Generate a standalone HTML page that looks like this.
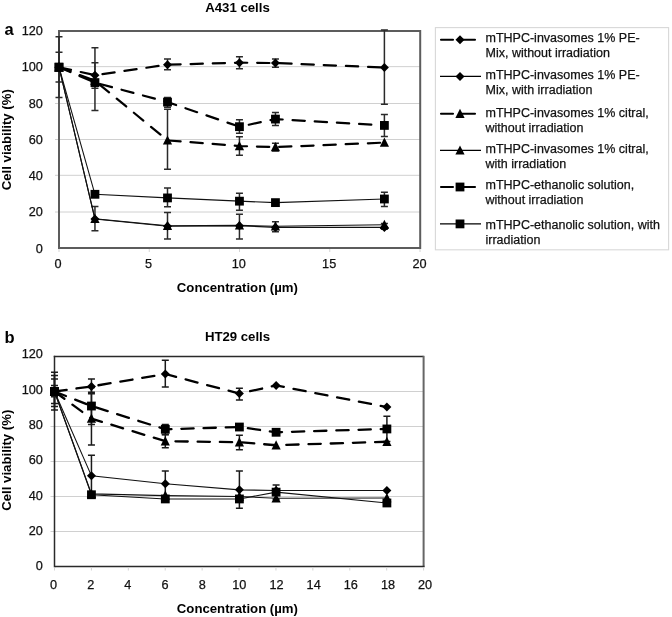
<!DOCTYPE html>
<html><head><meta charset="utf-8"><title>Cell viability charts</title>
<style>
html,body{margin:0;padding:0;background:#fff;}
body{width:672px;height:617px;overflow:hidden;}
svg{display:block;}
.t{font-family:"Liberation Sans",Arial,sans-serif;font-size:12.7px;fill:#111;stroke:#111;stroke-width:0.25px;}
.l{font-family:"Liberation Sans",Arial,sans-serif;font-size:12.5px;fill:#111;stroke:#111;stroke-width:0.25px;}
.b{font-family:"Liberation Sans",Arial,sans-serif;font-size:13.2px;font-weight:bold;fill:#000;}
.lab{font-family:"Liberation Sans",Arial,sans-serif;font-size:16.5px;font-weight:bold;fill:#000;}
</style></head><body>
<svg width="672" height="617" viewBox="0 0 672 617">
<line x1="55" y1="212" x2="420.2" y2="212" stroke="#d0d0d0" stroke-width="1"/>
<line x1="55" y1="175.3" x2="420.2" y2="175.3" stroke="#d0d0d0" stroke-width="1"/>
<line x1="55" y1="139.5" x2="420.2" y2="139.5" stroke="#d0d0d0" stroke-width="1"/>
<line x1="55" y1="103.5" x2="420.2" y2="103.5" stroke="#d0d0d0" stroke-width="1"/>
<line x1="55" y1="66.65" x2="420.2" y2="66.65" stroke="#d0d0d0" stroke-width="1"/>
<rect x="59" y="31" width="361.2" height="217" fill="none" stroke="#5c5c5c" stroke-width="2"/>
<text x="42.8" y="252.7" text-anchor="end" class="t">0</text>
<text x="42.8" y="216.45" text-anchor="end" class="t">20</text>
<text x="42.8" y="180.2" text-anchor="end" class="t">40</text>
<text x="42.8" y="143.95" text-anchor="end" class="t">60</text>
<text x="42.8" y="107.7" text-anchor="end" class="t">80</text>
<text x="42.8" y="71.45" text-anchor="end" class="t">100</text>
<text x="42.8" y="35.2" text-anchor="end" class="t">120</text>
<line x1="59" y1="249" x2="59" y2="252" stroke="#d4d4d4" stroke-width="1"/>
<text x="58.1" y="267.9" text-anchor="middle" class="t">0</text>
<line x1="149.25" y1="249" x2="149.25" y2="252" stroke="#d4d4d4" stroke-width="1"/>
<text x="148.45" y="267.9" text-anchor="middle" class="t">5</text>
<line x1="239.5" y1="249" x2="239.5" y2="252" stroke="#d4d4d4" stroke-width="1"/>
<text x="238.8" y="267.9" text-anchor="middle" class="t">10</text>
<line x1="329.75" y1="249" x2="329.75" y2="252" stroke="#d4d4d4" stroke-width="1"/>
<text x="329.15" y="267.9" text-anchor="middle" class="t">15</text>
<line x1="420" y1="249" x2="420" y2="252" stroke="#d4d4d4" stroke-width="1"/>
<text x="419.5" y="267.9" text-anchor="middle" class="t">20</text>
<path d="M59 36.64V97.39M55.5 36.64H62.5M55.5 97.39H62.5" stroke="#2a2a2a" stroke-width="1.5" fill="none"/>
<path d="M59 52.19V82.03M55.5 52.19H62.5M55.5 82.03H62.5" stroke="#2a2a2a" stroke-width="1.5" fill="none"/>
<path d="M94.95 47.67V110.41M91.45 47.67H98.45M91.45 110.41H98.45" stroke="#2a2a2a" stroke-width="1.5" fill="none"/>
<path d="M94.95 62.68V88.17M91.45 62.68H98.45M91.45 88.17H98.45" stroke="#2a2a2a" stroke-width="1.5" fill="none"/>
<path d="M94.95 206.42V230.82M91.45 206.42H98.45M91.45 230.82H98.45" stroke="#2a2a2a" stroke-width="1.5" fill="none"/>
<path d="M167.5 59.06V69.73M164 59.06H171M164 69.73H171" stroke="#2a2a2a" stroke-width="1.5" fill="none"/>
<path d="M167.5 97.57V107.34M164 97.57H171M164 107.34H171" stroke="#2a2a2a" stroke-width="1.5" fill="none"/>
<path d="M167.5 109.33V169.35M164 109.33H171M164 169.35H171" stroke="#2a2a2a" stroke-width="1.5" fill="none"/>
<path d="M167.5 187.97V206.78M164 187.97H171M164 206.78H171" stroke="#2a2a2a" stroke-width="1.5" fill="none"/>
<path d="M167.5 212.56V238.96M164 212.56H171M164 238.96H171" stroke="#2a2a2a" stroke-width="1.5" fill="none"/>
<path d="M239.45 56.71V68.65M235.95 56.71H242.95M235.95 68.65H242.95" stroke="#2a2a2a" stroke-width="1.5" fill="none"/>
<path d="M239.45 119.63V133.19M235.95 119.63H242.95M235.95 133.19H242.95" stroke="#2a2a2a" stroke-width="1.5" fill="none"/>
<path d="M239.45 136.63V155.25M235.95 136.63H242.95M235.95 155.25H242.95" stroke="#2a2a2a" stroke-width="1.5" fill="none"/>
<path d="M239.45 193.22V210.21M235.95 193.22H242.95M235.95 210.21H242.95" stroke="#2a2a2a" stroke-width="1.5" fill="none"/>
<path d="M239.45 214.19V238.96M235.95 214.19H242.95M235.95 238.96H242.95" stroke="#2a2a2a" stroke-width="1.5" fill="none"/>
<path d="M275.45 58.88V67.2M271.95 58.88H278.95M271.95 67.2H278.95" stroke="#2a2a2a" stroke-width="1.5" fill="none"/>
<path d="M275.45 112.58V125.6M271.95 112.58H278.95M271.95 125.6H278.95" stroke="#2a2a2a" stroke-width="1.5" fill="none"/>
<path d="M275.45 143.32V150.91M271.95 143.32H278.95M271.95 150.91H278.95" stroke="#2a2a2a" stroke-width="1.5" fill="none"/>
<path d="M275.45 221.78V231.73M271.95 221.78H278.95M271.95 231.73H278.95" stroke="#2a2a2a" stroke-width="1.5" fill="none"/>
<path d="M384.4 29.96V104.26M380.9 29.96H387.9M380.9 104.26H387.9" stroke="#2a2a2a" stroke-width="1.5" fill="none"/>
<path d="M384.4 114.57V136.45M380.9 114.57H387.9M380.9 136.45H387.9" stroke="#2a2a2a" stroke-width="1.5" fill="none"/>
<path d="M384.4 192.31V206.6M380.9 192.31H387.9M380.9 206.6H387.9" stroke="#2a2a2a" stroke-width="1.5" fill="none"/>
<path d="M384.4 223.41V229.2M380.9 223.41H387.9M380.9 229.2H387.9" stroke="#2a2a2a" stroke-width="1.5" fill="none"/>
<polyline points="59,67.2 94.95,75.16 167.5,64.67 239.45,62.68 275.45,63.04 384.4,67.56" fill="none" stroke="#000" stroke-width="2.2" stroke-dasharray="12.3 9.9" stroke-linecap="round"/>
<polyline points="59,67.2 94.95,219.07 167.5,226.3 239.45,225.76 275.45,227.39 384.4,227.39" fill="none" stroke="#111" stroke-width="1.1"/>
<polyline points="59,67.2 94.95,80.76 167.5,140.42 239.45,146.03 275.45,147.11 384.4,142.59" fill="none" stroke="#000" stroke-width="2.2" stroke-dasharray="12.3 9.9" stroke-linecap="round"/>
<polyline points="59,67.2 94.95,218.71 167.5,225.76 239.45,225.4 275.45,226.3 384.4,224.68" fill="none" stroke="#111" stroke-width="1.1"/>
<polyline points="59,67.2 94.95,82.57 167.5,102.09 239.45,126.68 275.45,119.09 384.4,125.42" fill="none" stroke="#000" stroke-width="2.2" stroke-dasharray="12.3 9.9" stroke-linecap="round"/>
<polyline points="59,67.2 94.95,194.3 167.5,197.92 239.45,201.17 275.45,202.62 384.4,199" fill="none" stroke="#111" stroke-width="1.1"/>
<path d="M59 62.7L63.5 67.2L59 71.7L54.5 67.2Z" fill="#000"/>
<path d="M94.95 70.66L99.45 75.16L94.95 79.66L90.45 75.16Z" fill="#000"/>
<path d="M167.5 60.17L172 64.67L167.5 69.17L163 64.67Z" fill="#000"/>
<path d="M239.45 58.18L243.95 62.68L239.45 67.18L234.95 62.68Z" fill="#000"/>
<path d="M275.45 58.54L279.95 63.04L275.45 67.54L270.95 63.04Z" fill="#000"/>
<path d="M384.4 63.06L388.9 67.56L384.4 72.06L379.9 67.56Z" fill="#000"/>
<path d="M59 62.7L63.5 67.2L59 71.7L54.5 67.2Z" fill="#000"/>
<path d="M94.95 214.57L99.45 219.07L94.95 223.57L90.45 219.07Z" fill="#000"/>
<path d="M167.5 221.8L172 226.3L167.5 230.8L163 226.3Z" fill="#000"/>
<path d="M239.45 221.26L243.95 225.76L239.45 230.26L234.95 225.76Z" fill="#000"/>
<path d="M275.45 222.89L279.95 227.39L275.45 231.89L270.95 227.39Z" fill="#000"/>
<path d="M384.4 222.89L388.9 227.39L384.4 231.89L379.9 227.39Z" fill="#000"/>
<path d="M59 62.2L63.6 71.4L54.4 71.4Z" fill="#000"/>
<path d="M94.95 75.76L99.55 84.96L90.35 84.96Z" fill="#000"/>
<path d="M167.5 135.42L172.1 144.62L162.9 144.62Z" fill="#000"/>
<path d="M239.45 141.03L244.05 150.23L234.85 150.23Z" fill="#000"/>
<path d="M275.45 142.11L280.05 151.31L270.85 151.31Z" fill="#000"/>
<path d="M384.4 137.59L389 146.79L379.8 146.79Z" fill="#000"/>
<path d="M59 62.2L63.6 71.4L54.4 71.4Z" fill="#000"/>
<path d="M94.95 213.71L99.55 222.91L90.35 222.91Z" fill="#000"/>
<path d="M167.5 220.76L172.1 229.96L162.9 229.96Z" fill="#000"/>
<path d="M239.45 220.4L244.05 229.6L234.85 229.6Z" fill="#000"/>
<path d="M275.45 221.3L280.05 230.5L270.85 230.5Z" fill="#000"/>
<path d="M384.4 219.68L389 228.88L379.8 228.88Z" fill="#000"/>
<rect x="54.6" y="62.8" width="8.8" height="8.8" fill="#000"/>
<rect x="90.55" y="78.17" width="8.8" height="8.8" fill="#000"/>
<rect x="163.1" y="97.69" width="8.8" height="8.8" fill="#000"/>
<rect x="235.05" y="122.28" width="8.8" height="8.8" fill="#000"/>
<rect x="271.05" y="114.69" width="8.8" height="8.8" fill="#000"/>
<rect x="380" y="121.02" width="8.8" height="8.8" fill="#000"/>
<rect x="54.6" y="62.8" width="8.8" height="8.8" fill="#000"/>
<rect x="90.55" y="189.9" width="8.8" height="8.8" fill="#000"/>
<rect x="163.1" y="193.52" width="8.8" height="8.8" fill="#000"/>
<rect x="235.05" y="196.77" width="8.8" height="8.8" fill="#000"/>
<rect x="271.05" y="198.22" width="8.8" height="8.8" fill="#000"/>
<rect x="380" y="194.6" width="8.8" height="8.8" fill="#000"/>
<line x1="50.5" y1="531.5" x2="423.6" y2="531.5" stroke="#d0d0d0" stroke-width="1"/>
<line x1="50.5" y1="496.5" x2="423.6" y2="496.5" stroke="#d0d0d0" stroke-width="1"/>
<line x1="50.5" y1="461.5" x2="423.6" y2="461.5" stroke="#d0d0d0" stroke-width="1"/>
<line x1="50.5" y1="426.5" x2="423.6" y2="426.5" stroke="#d0d0d0" stroke-width="1"/>
<line x1="50.5" y1="391.5" x2="423.6" y2="391.5" stroke="#d0d0d0" stroke-width="1"/>
<path d="M53.75 356.5H423.6" stroke="#2a2a2a" stroke-width="1.4"/>
<path d="M423.6 355.8V566.5" stroke="#666" stroke-width="2"/>
<path d="M54.5 566.5H424.6" stroke="#2a2a2a" stroke-width="1.6"/>
<path d="M54.5 355.8V567.3" stroke="#2a2a2a" stroke-width="1.5"/>
<text x="42.8" y="570.4" text-anchor="end" class="t">0</text>
<text x="42.8" y="535.07" text-anchor="end" class="t">20</text>
<text x="42.8" y="499.74" text-anchor="end" class="t">40</text>
<text x="42.8" y="464.41" text-anchor="end" class="t">60</text>
<text x="42.8" y="429.08" text-anchor="end" class="t">80</text>
<text x="42.8" y="393.75" text-anchor="end" class="t">100</text>
<text x="42.8" y="358.42" text-anchor="end" class="t">120</text>
<line x1="54.5" y1="567.5" x2="54.5" y2="570.5" stroke="#d4d4d4" stroke-width="1"/>
<text x="53.6" y="588.8" text-anchor="middle" class="t">0</text>
<line x1="91.41" y1="567.5" x2="91.41" y2="570.5" stroke="#d4d4d4" stroke-width="1"/>
<text x="90.75" y="588.8" text-anchor="middle" class="t">2</text>
<line x1="128.32" y1="567.5" x2="128.32" y2="570.5" stroke="#d4d4d4" stroke-width="1"/>
<text x="127.9" y="588.8" text-anchor="middle" class="t">4</text>
<line x1="165.23" y1="567.5" x2="165.23" y2="570.5" stroke="#d4d4d4" stroke-width="1"/>
<text x="165.05" y="588.8" text-anchor="middle" class="t">6</text>
<line x1="202.14" y1="567.5" x2="202.14" y2="570.5" stroke="#d4d4d4" stroke-width="1"/>
<text x="202.2" y="588.8" text-anchor="middle" class="t">8</text>
<line x1="239.05" y1="567.5" x2="239.05" y2="570.5" stroke="#d4d4d4" stroke-width="1"/>
<text x="239.35" y="588.8" text-anchor="middle" class="t">10</text>
<line x1="275.96" y1="567.5" x2="275.96" y2="570.5" stroke="#d4d4d4" stroke-width="1"/>
<text x="276.5" y="588.8" text-anchor="middle" class="t">12</text>
<line x1="312.87" y1="567.5" x2="312.87" y2="570.5" stroke="#d4d4d4" stroke-width="1"/>
<text x="313.65" y="588.8" text-anchor="middle" class="t">14</text>
<line x1="349.78" y1="567.5" x2="349.78" y2="570.5" stroke="#d4d4d4" stroke-width="1"/>
<text x="350.8" y="588.8" text-anchor="middle" class="t">16</text>
<line x1="386.69" y1="567.5" x2="386.69" y2="570.5" stroke="#d4d4d4" stroke-width="1"/>
<text x="387.95" y="588.8" text-anchor="middle" class="t">18</text>
<line x1="423.6" y1="567.5" x2="423.6" y2="570.5" stroke="#d4d4d4" stroke-width="1"/>
<text x="425.1" y="588.8" text-anchor="middle" class="t">20</text>
<path d="M54.5 372.25V410.05M51 372.25H58M51 410.05H58" stroke="#1a1a1a" stroke-width="1.5" fill="none"/>
<path d="M54.5 375.58V406.55M51 375.58H58M51 406.55H58" stroke="#1a1a1a" stroke-width="1.5" fill="none"/>
<path d="M54.5 378.9V403.4M51 378.9H58M51 403.4H58" stroke="#1a1a1a" stroke-width="1.5" fill="none"/>
<path d="M54.5 385.38V396.75M51 385.38H58M51 396.75H58" stroke="#1a1a1a" stroke-width="1.5" fill="none"/>
<path d="M91.45 379.08V393.77M87.95 379.08H94.95M87.95 393.77H94.95" stroke="#1a1a1a" stroke-width="1.5" fill="none"/>
<path d="M91.45 392.2V444.88M87.95 392.2H94.95M87.95 444.88H94.95" stroke="#1a1a1a" stroke-width="1.5" fill="none"/>
<path d="M91.45 387.48V424.58M87.95 387.48H94.95M87.95 424.58H94.95" stroke="#1a1a1a" stroke-width="1.5" fill="none"/>
<path d="M91.45 455.2V496.5M87.95 455.2H94.95M87.95 496.5H94.95" stroke="#1a1a1a" stroke-width="1.5" fill="none"/>
<path d="M165.3 360.35V386.95M161.8 360.35H168.8M161.8 386.95H168.8" stroke="#1a1a1a" stroke-width="1.5" fill="none"/>
<path d="M165.3 424.4V434.55M161.8 424.4H168.8M161.8 434.55H168.8" stroke="#1a1a1a" stroke-width="1.5" fill="none"/>
<path d="M165.3 434.73V447.67M161.8 434.73H168.8M161.8 447.67H168.8" stroke="#1a1a1a" stroke-width="1.5" fill="none"/>
<path d="M165.3 470.95V496.5M161.8 470.95H168.8M161.8 496.5H168.8" stroke="#1a1a1a" stroke-width="1.5" fill="none"/>
<path d="M239.4 388.35V399.9M235.9 388.35H242.9M235.9 399.9H242.9" stroke="#1a1a1a" stroke-width="1.5" fill="none"/>
<path d="M239.4 435.25V449.77M235.9 435.25H242.9M235.9 449.77H242.9" stroke="#1a1a1a" stroke-width="1.5" fill="none"/>
<path d="M239.4 470.95V508.23M235.9 470.95H242.9M235.9 508.23H242.9" stroke="#1a1a1a" stroke-width="1.5" fill="none"/>
<path d="M276.1 484.95V499.3M272.6 484.95H279.6M272.6 499.3H279.6" stroke="#1a1a1a" stroke-width="1.5" fill="none"/>
<path d="M386.9 416.35V441.55M383.4 416.35H390.4M383.4 441.55H390.4" stroke="#1a1a1a" stroke-width="1.5" fill="none"/>
<polyline points="54.5,391.5 91.45,386.42 165.3,374 239.4,393.6 276.1,385.38 386.9,407.08" fill="none" stroke="#000" stroke-width="2.3" stroke-dasharray="12.3 9.9" stroke-linecap="round"/>
<polyline points="54.5,391.5 91.45,475.85 165.3,483.73 239.4,489.85 276.1,490.55 386.9,490.55" fill="none" stroke="#111" stroke-width="1.1"/>
<polyline points="54.5,391.5 91.45,418.62 165.3,441.2 239.4,442.25 276.1,445.23 386.9,441.73" fill="none" stroke="#000" stroke-width="2.3" stroke-dasharray="12.3 9.9" stroke-linecap="round"/>
<polyline points="54.5,391.5 91.45,493.88 165.3,495.62 239.4,496.5 276.1,498.25 386.9,498.07" fill="none" stroke="#111" stroke-width="1.1"/>
<polyline points="54.5,391.5 91.45,406.02 165.3,429.3 239.4,427.02 276.1,432.27 386.9,428.95" fill="none" stroke="#000" stroke-width="2.3" stroke-dasharray="12.3 9.9" stroke-linecap="round"/>
<polyline points="54.5,391.5 91.45,494.75 165.3,498.95 239.4,498.95 276.1,492.12 386.9,502.98" fill="none" stroke="#111" stroke-width="1.1"/>
<path d="M54.5 387L59 391.5L54.5 396L50 391.5Z" fill="#000"/>
<path d="M91.45 381.92L95.95 386.42L91.45 390.92L86.95 386.42Z" fill="#000"/>
<path d="M165.3 369.5L169.8 374L165.3 378.5L160.8 374Z" fill="#000"/>
<path d="M239.4 389.1L243.9 393.6L239.4 398.1L234.9 393.6Z" fill="#000"/>
<path d="M276.1 380.88L280.6 385.38L276.1 389.88L271.6 385.38Z" fill="#000"/>
<path d="M386.9 402.58L391.4 407.08L386.9 411.58L382.4 407.08Z" fill="#000"/>
<path d="M54.5 387L59 391.5L54.5 396L50 391.5Z" fill="#000"/>
<path d="M91.45 471.35L95.95 475.85L91.45 480.35L86.95 475.85Z" fill="#000"/>
<path d="M165.3 479.23L169.8 483.73L165.3 488.23L160.8 483.73Z" fill="#000"/>
<path d="M239.4 485.35L243.9 489.85L239.4 494.35L234.9 489.85Z" fill="#000"/>
<path d="M276.1 486.05L280.6 490.55L276.1 495.05L271.6 490.55Z" fill="#000"/>
<path d="M386.9 486.05L391.4 490.55L386.9 495.05L382.4 490.55Z" fill="#000"/>
<path d="M54.5 386.5L59.1 395.7L49.9 395.7Z" fill="#000"/>
<path d="M91.45 413.62L96.05 422.82L86.85 422.82Z" fill="#000"/>
<path d="M165.3 436.2L169.9 445.4L160.7 445.4Z" fill="#000"/>
<path d="M239.4 437.25L244 446.45L234.8 446.45Z" fill="#000"/>
<path d="M276.1 440.23L280.7 449.43L271.5 449.43Z" fill="#000"/>
<path d="M386.9 436.73L391.5 445.93L382.3 445.93Z" fill="#000"/>
<path d="M54.5 386.5L59.1 395.7L49.9 395.7Z" fill="#000"/>
<path d="M91.45 488.88L96.05 498.07L86.85 498.07Z" fill="#000"/>
<path d="M165.3 490.62L169.9 499.82L160.7 499.82Z" fill="#000"/>
<path d="M239.4 491.5L244 500.7L234.8 500.7Z" fill="#000"/>
<path d="M276.1 493.25L280.7 502.45L271.5 502.45Z" fill="#000"/>
<path d="M386.9 493.07L391.5 502.27L382.3 502.27Z" fill="#000"/>
<rect x="50.1" y="387.1" width="8.8" height="8.8" fill="#000"/>
<rect x="87.05" y="401.62" width="8.8" height="8.8" fill="#000"/>
<rect x="160.9" y="424.9" width="8.8" height="8.8" fill="#000"/>
<rect x="235" y="422.62" width="8.8" height="8.8" fill="#000"/>
<rect x="271.7" y="427.88" width="8.8" height="8.8" fill="#000"/>
<rect x="382.5" y="424.55" width="8.8" height="8.8" fill="#000"/>
<rect x="50.1" y="387.1" width="8.8" height="8.8" fill="#000"/>
<rect x="87.05" y="490.35" width="8.8" height="8.8" fill="#000"/>
<rect x="160.9" y="494.55" width="8.8" height="8.8" fill="#000"/>
<rect x="235" y="494.55" width="8.8" height="8.8" fill="#000"/>
<rect x="271.7" y="487.73" width="8.8" height="8.8" fill="#000"/>
<rect x="382.5" y="498.58" width="8.8" height="8.8" fill="#000"/>
<rect x="435.4" y="27.6" width="233.2" height="222.2" fill="none" stroke="#d8d8d8" stroke-width="1.1"/>
<path d="M441 39.7H453M461 39.7H475" stroke="#000" stroke-width="2.1" stroke-linecap="round"/>
<path d="M460 35.2L464.5 39.7L460 44.2L455.5 39.7Z" fill="#000"/>
<text x="485.5" y="42.3" class="l">mTHPC-invasomes 1% PE-</text>
<text x="485.5" y="57" class="l">Mix, without irradiation</text>
<line x1="440" y1="76.4" x2="481" y2="76.4" stroke="#000" stroke-width="1.1"/>
<path d="M460 71.9L464.5 76.4L460 80.9L455.5 76.4Z" fill="#000"/>
<text x="485.5" y="79" class="l">mTHPC-invasomes 1% PE-</text>
<text x="485.5" y="93.7" class="l">Mix, with irradiation</text>
<path d="M441 113.8H453M461 113.8H475" stroke="#000" stroke-width="2.1" stroke-linecap="round"/>
<path d="M460 108.8L464.6 118L455.4 118Z" fill="#000"/>
<text x="485.5" y="117.3" class="l">mTHPC-invasomes 1% citral,</text>
<text x="485.5" y="132" class="l">without irradiation</text>
<line x1="440" y1="150.4" x2="481" y2="150.4" stroke="#000" stroke-width="1.1"/>
<path d="M460 145.4L464.6 154.6L455.4 154.6Z" fill="#000"/>
<text x="485.5" y="153" class="l">mTHPC-invasomes 1% citral,</text>
<text x="485.5" y="167.7" class="l">with irradiation</text>
<path d="M441 187H453M461 187H475" stroke="#000" stroke-width="2.1" stroke-linecap="round"/>
<rect x="455.6" y="182.6" width="8.8" height="8.8" fill="#000"/>
<text x="485.5" y="189" class="l">mTHPC-ethanolic solution,</text>
<text x="485.5" y="203.7" class="l">without irradiation</text>
<line x1="440" y1="223.9" x2="481" y2="223.9" stroke="#000" stroke-width="1.1"/>
<rect x="455.6" y="219.5" width="8.8" height="8.8" fill="#000"/>
<text x="485.5" y="229.2" class="l">mTHPC-ethanolic solution, with</text>
<text x="485.5" y="243.9" class="l">irradiation</text>
<text x="237.5" y="12.2" text-anchor="middle" class="b">A431 cells</text>
<text x="237.5" y="341.4" text-anchor="middle" class="b">HT29 cells</text>
<text x="237.4" y="291.8" text-anchor="middle" class="b">Concentration (&#181;m)</text>
<text x="237.4" y="612.6" text-anchor="middle" class="b">Concentration (&#181;m)</text>
<text transform="translate(11.1,139.7) rotate(-90)" text-anchor="middle" class="b">Cell viability (%)</text>
<text transform="translate(11.1,460.2) rotate(-90)" text-anchor="middle" class="b">Cell viability (%)</text>
<text x="4.5" y="34.9" class="lab">a</text>
<text x="4.5" y="343.2" class="lab">b</text>
</svg>
</body></html>
